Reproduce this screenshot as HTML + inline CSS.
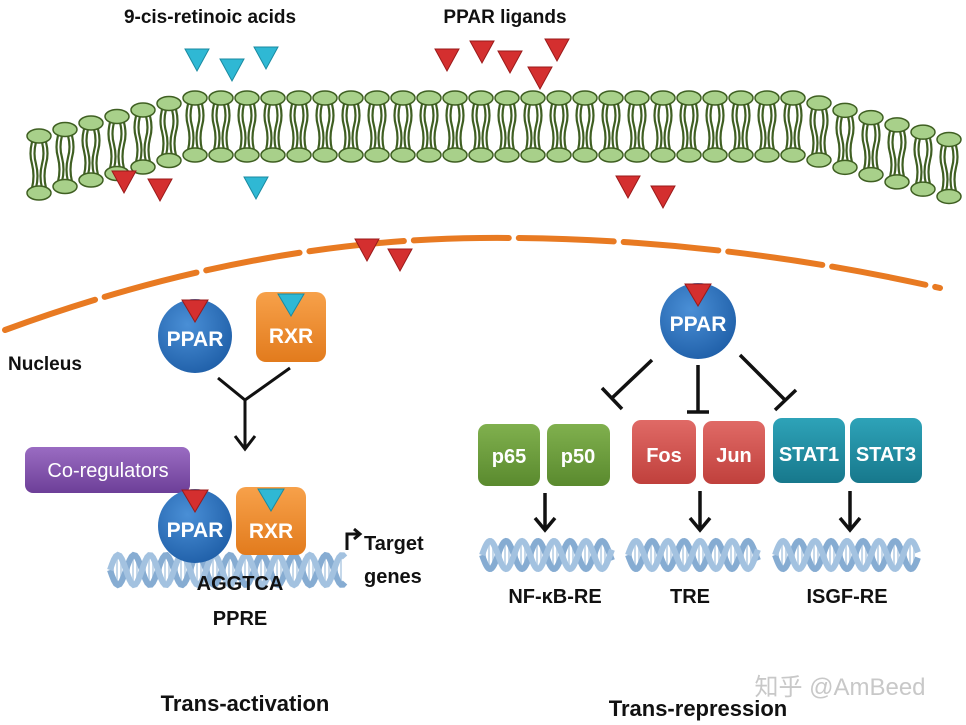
<!DOCTYPE html>
<html><head><meta charset="utf-8"><style>
body{margin:0;background:#fff;width:966px;height:725px;overflow:hidden}
svg{display:block}
text{font-family:"Liberation Sans","Noto Sans CJK SC",sans-serif;font-weight:bold}
</style></head><body>
<svg id="s" width="966" height="725" viewBox="0 0 966 725" xmlns="http://www.w3.org/2000/svg">
<defs>
<radialGradient id="gb" cx="40%" cy="35%" r="70%"><stop offset="0" stop-color="#4a8fd6"/><stop offset="1" stop-color="#1f5fa8"/></radialGradient>
<linearGradient id="go" x1="0" y1="0" x2="0" y2="1"><stop offset="0" stop-color="#f7a14a"/><stop offset="1" stop-color="#e27b1d"/></linearGradient>
<linearGradient id="gp" x1="0" y1="0" x2="0" y2="1"><stop offset="0" stop-color="#9a6cc2"/><stop offset="1" stop-color="#6d3f98"/></linearGradient>
<linearGradient id="gg" x1="0" y1="0" x2="0" y2="1"><stop offset="0" stop-color="#80b04e"/><stop offset="1" stop-color="#5a8a2e"/></linearGradient>
<linearGradient id="gr" x1="0" y1="0" x2="0" y2="1"><stop offset="0" stop-color="#e06a66"/><stop offset="1" stop-color="#c0403c"/></linearGradient>
<linearGradient id="gt" x1="0" y1="0" x2="0" y2="1"><stop offset="0" stop-color="#2ea3b8"/><stop offset="1" stop-color="#17788c"/></linearGradient>
</defs>
<g id="mem"></g>
<g id="env" fill="none" stroke="#e87a22" stroke-width="6" stroke-linecap="round"></g>
<g id="dna"></g>
<g id="tri"></g>

<text x="210" y="23" font-size="19" text-anchor="middle" fill="#111">9-cis-retinoic acids</text>
<text x="505" y="23" font-size="19" text-anchor="middle" fill="#111">PPAR ligands</text>
<text x="8" y="370" font-size="19" fill="#111">Nucleus</text>

<circle cx="195" cy="336" r="37" fill="url(#gb)"/>
<rect x="256" y="292" width="70" height="70" rx="10" fill="url(#go)"/>
<g stroke="#111" stroke-width="3" fill="none">
<path d="M218,378 L245,400 L290,368 M245,400 L245,448"/>
<path d="M235,436 L245,449 L255,436"/>
</g>

<rect x="25" y="447" width="165" height="46" rx="8" fill="url(#gp)"/>
<text x="108" y="477" font-size="20" fill="#fff" text-anchor="middle" style="font-weight:normal">Co-regulators</text>
<g id="dna2"></g>
<circle cx="195" cy="526" r="37" fill="url(#gb)"/>
<rect x="236" y="487" width="70" height="68" rx="10" fill="url(#go)"/>
<text x="240" y="590" font-size="20" fill="#111" text-anchor="middle">AGGTCA</text>
<text x="240" y="625" font-size="20" fill="#111" text-anchor="middle">PPRE</text>
<path d="M347,550 L347,534 L360,534 M354,529 L360,534 L354,539" stroke="#111" stroke-width="3" fill="none"/>
<text x="364" y="550" font-size="20" fill="#111">Target</text>
<text x="364" y="583" font-size="20" fill="#111">genes</text>

<circle cx="698" cy="321" r="38" fill="url(#gb)"/>
<g stroke="#111" stroke-width="3.5" fill="none">
<path d="M652,360 L612,398 M602,388 L622,409"/>
<path d="M698,365 L698,412 M687,412 L709,412"/>
<path d="M740,355 L785,400 M775,410 L796,390"/>
<path d="M545,493 L545,530 M700,491 L700,530 M850,491 L850,530"/>
<path d="M535,518 L545,530 L555,518 M690,518 L700,530 L710,518 M840,518 L850,530 L860,518"/>
</g>
<rect x="478" y="424" width="62" height="62" rx="9" fill="url(#gg)"/>
<rect x="547" y="424" width="63" height="62" rx="9" fill="url(#gg)"/>
<rect x="632" y="420" width="64" height="64" rx="9" fill="url(#gr)"/>
<rect x="703" y="421" width="62" height="63" rx="9" fill="url(#gr)"/>
<rect x="773" y="418" width="72" height="65" rx="9" fill="url(#gt)"/>
<rect x="850" y="418" width="72" height="65" rx="9" fill="url(#gt)"/>
<g font-size="20" fill="#fff" text-anchor="middle">
<text x="509" y="463">p65</text><text x="578" y="463">p50</text>
<text x="664" y="462">Fos</text><text x="734" y="462">Jun</text>
<text x="809" y="461">STAT1</text><text x="886" y="461">STAT3</text>
</g>
<g font-size="20" fill="#111" text-anchor="middle">
<text x="555" y="603">NF-κB-RE</text><text x="690" y="603">TRE</text><text x="847" y="603">ISGF-RE</text>
</g>
<text x="245" y="711" font-size="22" fill="#111" text-anchor="middle">Trans-activation</text>
<text x="698" y="716" font-size="22" fill="#111" text-anchor="middle">Trans-repression</text>
<text x="840" y="695" font-size="24" fill="#c8c8c8" text-anchor="middle" style="font-weight:normal">知乎 @AmBeed</text>
<g id="tri2"></g>
<g font-size="21" fill="#fff" text-anchor="middle">
<text x="195" y="346">PPAR</text><text x="291" y="343">RXR</text>
<text x="195" y="537">PPAR</text><text x="271" y="538">RXR</text>
<text x="698" y="331">PPAR</text>
</g>
</svg>
<script>
var NS="http://www.w3.org/2000/svg";
function el(p,t,a){var e=document.createElementNS(NS,t);for(var k in a)e.setAttribute(k,a[k]);p.appendChild(e);return e;}
var mem=document.getElementById('mem');
function topY(x){if(x<190)return 98+(190-x)*0.25; if(x>800)return 98+(x-800)*0.28; return 98;}
for(var x=38;x<=950;x+=26){var t=topY(x),b=t+57;
 var g=el(mem,'g',{});
 el(g,'path',{d:'M'+(x-6)+','+(t+6)+' q-3,12 0,22 q3,12 0,24 M'+(x-2)+','+(t+6)+' q-3,12 0,22 q3,12 0,24 M'+(x+4)+','+(t+6)+' q3,12 0,22 q-3,12 0,24 M'+(x+8)+','+(t+6)+' q3,12 0,22 q-3,12 0,24',stroke:'#3f5f22',fill:'none','stroke-width':2.2});
 el(g,'ellipse',{cx:x+1,cy:t,rx:12,ry:7,fill:'#a8d08a',stroke:'#3f5f22','stroke-width':1.5});
 el(g,'ellipse',{cx:x+1,cy:b,rx:12,ry:7,fill:'#a8d08a',stroke:'#3f5f22','stroke-width':1.5});}
var env=document.getElementById('env');
el(env,'path',{d:'M5,330 Q250,240 480,238 T940,288','stroke-dasharray':'95 10'});
function helix(p,x0,x1,y,amp){var d1='',d2='',P=32;
 for(var x=x0+3;x<x1;x+=4){var s=amp*Math.sin((x-x0)/P*2*Math.PI);el(p,'line',{x1:x,y1:y-s,x2:x,y2:y+s,stroke:'#c5d8ea','stroke-width':2});}
 for(var i=0;i<=120;i++){var x=x0+(x1-x0)*i/120,s=amp*Math.sin((x-x0)/P*2*Math.PI);
 d1+=(i?'L':'M')+x+','+(y+s);d2+=(i?'L':'M')+x+','+(y-s);}
 el(p,'path',{d:d1,stroke:'#86acd2','stroke-width':6,fill:'none'});
 el(p,'path',{d:d2,stroke:'#a3c2e0','stroke-width':6,fill:'none'});}
var dna=document.getElementById('dna');
helix(document.getElementById('dna2'),110,345,570,15);helix(dna,482,612,555,14);helix(dna,628,758,555,14);helix(dna,775,918,555,14);
var R='#d42f2f',C='#2fb8d4';
function T(p,x,y,c,w){w=w||24;el(p,'path',{d:'M'+(x-w/2)+','+(y-11)+' L'+(x+w/2)+','+(y-11)+' L'+x+','+(y+11)+'Z',fill:c,stroke:c==R?'#9a1a1a':'#1a8aa0','stroke-width':1});}
var tri=document.getElementById('tri'),tri2=document.getElementById('tri2');
[[197,60],[232,70],[266,58],[256,188]].forEach(function(p){T(tri,p[0],p[1],C)});
[[447,60],[482,52],[510,62],[540,78],[557,50],[124,182],[160,190],[628,187],[663,197],[367,250],[400,260]].forEach(function(p){T(tri,p[0],p[1],R)});
T(tri2,195,311,R,26);T(tri2,291,305,C,26);T(tri2,195,501,R,26);T(tri2,271,500,C,26);T(tri2,698,295,R,26);
</script>
</body></html>
